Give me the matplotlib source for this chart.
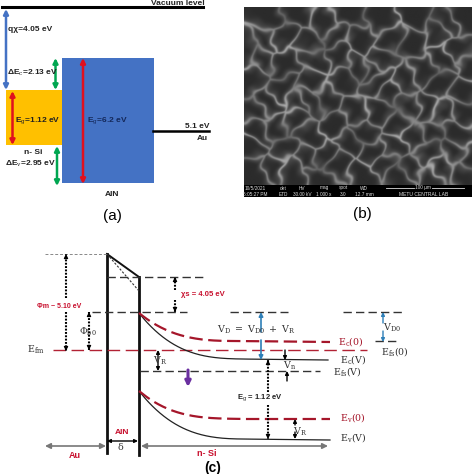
import numpy as np
import matplotlib
matplotlib.use("Agg")
import matplotlib.pyplot as plt
from matplotlib.patches import Rectangle

plt.rcParams["font.family"] = ["Liberation Sans", "DejaVu Sans"]
plt.rcParams["mathtext.fontset"] = "dejavuserif"

# SEM pore centres in zoomed pixels
pore_x = [100, 180, 265, 335, 440, 540, 625, 680, 130, 90, 225, 295, 365, 460, 530, 600, 670,
          35, 75, 130, 235, 310, 435, 400, 360, 555, 620, 690, 40, 140, 225, 320, 425, 505, 620,
          680, 465, 270, 90, 180, 50, 350, 420, 510, 570, 610, 680, 215, 120, 175, 300, 490, 540,
          590, 665, 390, 220, 60, 35, 135, 255, 330, 400, 465, 570, 650, 700, 120, 210, 310, 50,
          170, 450, 530, 620, 385, 490, 680, 580, 250]
pore_y = [45, 40, 68, 50, 60, 40, 70, 50, 105, 125, 130, 105, 110, 118, 125, 95, 150,
          160, 170, 190, 170, 170, 180, 210, 205, 205, 185, 190, 255, 270, 250, 250, 245, 235, 255,
          270, 280, 290, 300, 310, 340, 340, 335, 320, 325, 345, 330, 300, 380, 365, 380, 370, 405,
          400, 400, 395, 410, 390, 450, 450, 460, 440, 450, 455, 450, 455, 470, 490, 480, 495, 510,
          520, 490, 500, 510, 515, 530, 520, 535, 530]

# band diagram curves in panel (c)
ec0_x = [139, 160, 180, 207, 240, 330]
ec0_y = [313, 327, 335, 340, 341, 342]
ecv_x = [139, 170, 193, 220, 240, 328]
ecv_y = [313, 342, 353, 358, 359, 360]
ev0_x = [139, 160, 187, 213, 240, 330]
ev0_y = [391, 405, 415, 418, 419, 419]
evv_x = [139, 160, 187, 213, 240, 330]
evv_y = [391, 413, 430, 437, 439, 440]


def arrow(ax, x0, y0, x1, y1, color="black", lw=1.5, style="-|>", ms=7):
    ax.annotate("", xy=(x1, y1), xytext=(x0, y0),
                arrowprops=dict(arrowstyle=style, color=color, lw=lw,
                                mutation_scale=ms, shrinkA=0, shrinkB=0))


def dotted(ax, x, y0, y1, both=False):
    # dotted shaft, heads drawn apart since the arrow patch comes out solid
    ax.plot([x, x], [y0, y1], color="black", lw=1.5, ls=(0, (0.9, 0.7)))
    step = 3 if y1 > y0 else -3
    arrow(ax, x, y1 - step, x, y1, lw=0.8, ms=6)
    if both:
        arrow(ax, x, y0 + step, x, y0, lw=0.8, ms=6)


def smooth(xs, ys):
    t = np.linspace(xs[0], xs[-1], 200)
    c = np.polyfit(xs[:5], ys[:5], 3)
    out = np.interp(t, xs, ys)
    mask = t <= xs[4]
    out[mask] = np.polyval(c, t[mask])
    out[0] = ys[0]
    return t, out


fig = plt.figure(figsize=(4.74, 4.74), dpi=100)
ax = fig.add_axes([0, 0, 1, 1])
ax.set_xlim(0, 474)
ax.set_ylim(474, 0)
ax.axis("off")

# === panel (a)
ax.plot([2, 203], [7, 7], color="black", lw=2.2)
ax.add_patch(Rectangle((6, 90), 56, 55, fc="#FFC000", ec="none"))
ax.add_patch(Rectangle((62, 58), 92, 125, fc="#4472C4", ec="none"))
ax.plot([153, 209], [131, 131], color="black", lw=1.8)

arrow(ax, 6, 9, 6, 90, color="#4472C4", lw=1.8, style="<|-|>")
arrow(ax, 12.5, 91, 12.5, 145, color="#E0101E", lw=1.8, style="<|-|>")
arrow(ax, 83, 58, 83, 184, color="#E0101E", lw=1.8, style="<|-|>")
arrow(ax, 55.5, 58, 55.5, 90, color="#00A651", lw=1.8, style="<|-|>")
arrow(ax, 57, 146, 57, 186, color="#00A651", lw=1.8, style="<|-|>")

bold = dict(fontsize=6, fontweight="bold", ha="center", va="center", color="#222222")
ax.text(178, 3, "Vacuum level", **bold)
ax.text(30, 29, "q\u03c7=4.05 eV", **bold)
ax.text(32, 73, "\u0394E$_{\\mathrm{c}}$=2.13 eV", **bold)
ax.text(38, 121, "E$_{\\mathrm{g}}$=1.12 eV", **bold)
ax.text(107, 121, "E$_{\\mathrm{g}}$=6.2 eV", **{**bold, "color": "#14285a"})
ax.text(197, 126, "5.1 eV", **bold)
ax.text(202, 139, "Au", **bold)
ax.text(33, 152, "n- Si", **bold)
ax.text(30, 164, "\u0394E$_{\\mathrm{v}}$=2.95 eV", **bold)
ax.text(112, 194, "AlN", **bold)
ax.text(112, 216, "(a)", fontsize=11, ha="center", va="center")
ax.text(362, 214, "(b)", fontsize=11, ha="center", va="center", fontweight="medium")
ax.text(213, 468, "(c)", fontsize=10, ha="center", va="center", fontweight="bold")

# === panel (b): SEM surface, cell walls between the pores
gx, gy = np.meshgrid(np.arange(20, 706, 1.5), np.arange(20, 556, 1.5))
wx = gx + 9 * np.sin(gy / 19.0) + 6 * np.sin((gx + gy) / 11.0)
wy = gy + 9 * np.sin(gx / 23.0) + 6 * np.sin((gx - gy) / 13.0)
dist = np.hypot(wx[..., None] - np.array(pore_x), wy[..., None] - np.array(pore_y))
dist.sort(axis=2)
gap = dist[..., 1] - dist[..., 0]
vary = 0.62 + 0.38 * np.sin(gx / 37.0 + 1.0) * np.sin(gy / 29.0)
wall = np.exp(-(gap / 7.0) ** 2)
halo = np.exp(-(gap / 24.0) ** 2)
sem = 0.17 + 0.38 * wall * vary + 0.13 * halo
ax.imshow(sem, cmap="gray", vmin=0, vmax=1, extent=(244, 472, 185, 7), aspect="auto",
          interpolation="bicubic", zorder=1)
ax.set_xlim(0, 474)
ax.set_ylim(474, 0)
ax.add_patch(Rectangle((244, 185), 228, 12, fc="black", ec="none", zorder=2))
sem_head = ["10/5/2021", "det", "HV", "mag", "spot", "WD"]
sem_vals = ["5:05:27 PM", "ETD", "30.00 kV", "1 000 x", "3.0", "12.7 mm"]
sem_pos = [255, 283, 302, 324, 343, 364]
for h, v, p in zip(sem_head, sem_vals, sem_pos):
    ax.text(p, 188, h, color="#dddddd", fontsize=3.4, ha="center", va="center", zorder=3)
    ax.text(p, 194, v, color="#dddddd", fontsize=3.4, ha="center", va="center", zorder=3)
ax.plot([386, 414], [188, 188], color="#dddddd", lw=0.6, zorder=3)
ax.plot([432, 464], [188, 188], color="#dddddd", lw=0.6, zorder=3)
ax.text(423, 188, "100 \u00b5m", color="#dddddd", fontsize=3.4, ha="center", va="center", zorder=3)
ax.text(424, 194, "METU CENTRAL LAB", color="#dddddd", fontsize=3.6, ha="center", va="center", zorder=3)

# === panel (c)
ax.plot([107, 107], [254, 453], color="#111111", lw=2)
ax.plot([139, 139], [277, 455], color="#111111", lw=2)
ax.plot([107, 139], [254, 277], color="#111111", lw=1.4)
ax.plot([107, 139], [254, 291], color="#333333", lw=0.8, ls=(0, (2, 1.5)))

dash = dict(color="#333333", lw=1.0, ls=(0, (6, 3)))
ax.plot([45, 107], [254, 254], color="#888888", lw=0.7, ls=(0, (3, 2)))
ax.plot([107, 206], [277, 277], **dash)
ax.plot([92, 187], [312, 312], **dash)
ax.plot([230, 288], [312, 312], **dash)
ax.plot([343, 402], [312, 312], **dash)
ax.plot([375, 397], [341, 341], **dash)
ax.plot([140, 320], [371, 371], **dash)
ax.plot([53, 367], [350, 350], color="#B22234", lw=1.0, ls=(0, (9, 4)))

for xs, ys in [(ecv_x, ecv_y), (evv_x, evv_y)]:
    t, c = smooth(xs, ys)
    ax.plot(t, c, color="#222222", lw=0.9)
for xs, ys in [(ec0_x, ec0_y), (ev0_x, ev0_y)]:
    t, c = smooth(xs, ys)
    ax.plot(t, c, color="#A5162A", lw=1.6, ls=(0, (6, 2.5)))

dotted(ax, 66, 298, 254)
dotted(ax, 66, 312, 351)
dotted(ax, 89, 350, 312, both=True)
dotted(ax, 175, 290, 277)
dotted(ax, 175, 300, 312)
dotted(ax, 268, 392, 360)
dotted(ax, 268, 405, 439)
arrow(ax, 158, 350, 158, 371, lw=1.0, style="<|-|>", ms=5)
arrow(ax, 188, 370, 188, 387, color="#6A2FA0", lw=2.2, ms=8)
arrow(ax, 261, 332, 261, 312, color="#2E7FB8", lw=1.2, ms=6)
arrow(ax, 261, 340, 261, 360, color="#2E7FB8", lw=1.2, ms=6)
arrow(ax, 383, 323, 383, 312, color="#2E7FB8", lw=1.0, ms=5)
arrow(ax, 383, 331, 383, 342, color="#2E7FB8", lw=1.0, ms=5)
arrow(ax, 285, 350, 285, 360, lw=1.0, ms=5)
arrow(ax, 287, 381, 287, 371, lw=1.0, ms=5)
arrow(ax, 295, 425, 295, 419, lw=1.0, ms=5)
arrow(ax, 295, 432, 295, 439, lw=1.0, ms=5)

grey = dict(color="#777777", lw=1.2, ms=8)
arrow(ax, 45, 446, 106, 446, style="<|-|>", **grey)
arrow(ax, 141, 446, 328, 446, style="<|-|>", **grey)
arrow(ax, 107, 441, 138, 441, lw=1.0, style="<|-|>", ms=5)

red = dict(color="#C8102E", fontweight="bold", ha="center", va="center")
ax.text(59, 307, "\u03a6m ~ 5.10 eV", fontsize=5, **red)
ax.text(203, 295, "\u03c7s = 4.05 eV", fontsize=5.5, **red)
ax.text(122, 432, "AlN", fontsize=6, **red)
ax.text(75, 455, "Au", fontsize=6.5, **red)
ax.text(207, 453, "n- Si", fontsize=6.5, **red)
ax.text(260, 398, "E$_{\\mathrm{g}}$ = 1.12 eV", fontsize=5.5, fontweight="bold",
        ha="center", va="center", color="#222222")

serif = dict(ha="center", va="center", color="#333333", family="DejaVu Serif", fontsize=6.8)
ax.text(88, 332, "$\\mathrm{\\Phi_{b0}}$", **serif)
ax.text(36, 350, "$\\mathrm{E_{fm}}$", **serif)
ax.text(160, 361, "$\\mathrm{V_{R}}$", **serif)
ax.text(256, 330, "$\\mathrm{V_{D}\\ =\\ V_{D0}\\ +\\ V_{R}}$", **serif)
ax.text(392, 328, "$\\mathrm{V_{D0}}$", **serif)
ax.text(290, 366, "$\\mathrm{V_{n}}$", **serif)
ax.text(300, 432, "$\\mathrm{V_{R}}$", **serif)
ax.text(351, 341, "$\\mathrm{E_{c}(0)}$", **{**serif, "color": "#A5162A"})
ax.text(395, 351, "$\\mathrm{E_{fs}(0)}$", **serif)
ax.text(353, 360, "$\\mathrm{E_{c}(V)}$", **serif)
ax.text(347, 372, "$\\mathrm{E_{fs}(V)}$", **serif)
ax.text(353, 418, "$\\mathrm{E_{v}(0)}$", **{**serif, "color": "#A5162A"})
ax.text(353, 437, "$\\mathrm{E_{v}(V)}$", **serif)
ax.text(120, 448, "\u03b4", **serif)

fig.savefig("out.png", dpi=100)
